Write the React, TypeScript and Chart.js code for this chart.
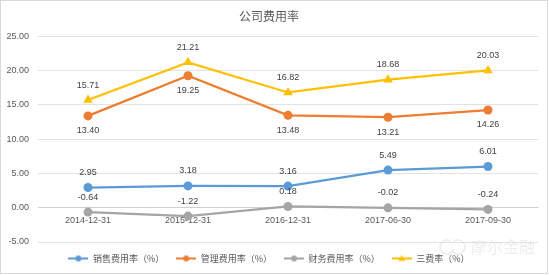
import React, { useEffect, useRef } from 'react';
import { Chart, registerables } from 'chart.js';

Chart.register(...registerables);

const categories = ['2014-12-31', '2015-12-31', '2016-12-31', '2017-06-30', '2017-09-30'];
const salesRate = [2.95, 3.18, 3.16, 5.49, 6.01];
const adminRate = [13.4, 19.25, 13.48, 13.21, 14.26];
const financeRate = [-0.64, -1.22, 0.18, -0.02, -0.24];
const totalRate = [15.71, 21.21, 16.82, 18.68, 20.03];
const seriesNames = ['销售费用率（%）', '管理费用率（%）', '财务费用率（%）', '三费率（%）'];
const chartTitle = '公司费用率';
const watermark = '摩尔金融';
const yMin = -5;
const yMax = 25;
const yStep = 5;

const COLORS = ['#5B9BD5', '#ED7D31', '#A5A5A5', '#FFC000'];
const LABEL_SIDE = ['above', 'below', 'above', 'above'];
const FONT = "'Liberation Sans', Arial, 'Noto Sans CJK SC', sans-serif";
const CJK_FONT = "'Noto Sans CJK SC', 'Liberation Sans', sans-serif";

function makeIcon(color: string, triangle: boolean): HTMLCanvasElement {
  const c = document.createElement('canvas');
  c.width = 20;
  c.height = 10;
  const ctx = c.getContext('2d')!;
  ctx.strokeStyle = color;
  ctx.lineWidth = 2;
  ctx.beginPath();
  ctx.moveTo(0, 5);
  ctx.lineTo(20, 5);
  ctx.stroke();
  ctx.fillStyle = color;
  ctx.beginPath();
  if (triangle) {
    ctx.moveTo(10, 1.5);
    ctx.lineTo(13.5, 7.5);
    ctx.lineTo(6.5, 7.5);
    ctx.closePath();
  } else {
    ctx.arc(10, 5, 3, 0, Math.PI * 2);
  }
  ctx.fill();
  return c;
}

const dataLabelPlugin = {
  id: 'dataLabels',
  afterDatasetsDraw(chart: any) {
    const ctx = chart.ctx;
    ctx.save();
    ctx.font = `9px ${FONT}`;
    ctx.fillStyle = '#404040';
    ctx.textAlign = 'center';
    ctx.textBaseline = 'middle';
    chart.data.datasets.forEach((ds: any, i: number) => {
      const meta = chart.getDatasetMeta(i);
      meta.data.forEach((pt: any, j: number) => {
        const v = ds.data[j] as number;
        const dy = LABEL_SIDE[i] === 'below' ? 15 : -15;
        ctx.fillText(v.toFixed(2), pt.x, pt.y + dy);
      });
    });
    ctx.restore();
  },
};

const framePlugin = {
  id: 'frame',
  beforeDraw(chart: any) {
    const ctx = chart.ctx;
    ctx.save();
    ctx.fillStyle = '#ffffff';
    ctx.fillRect(0, 0, chart.width, chart.height);
    ctx.restore();
  },
  afterDraw(chart: any) {
    const ctx = chart.ctx;
    ctx.save();
    ctx.strokeStyle = '#d9d9d9';
    ctx.lineWidth = 1;
    ctx.strokeRect(0.5, 0.5, chart.width - 2, chart.height - 2);
    ctx.font = `16px ${CJK_FONT}`;
    ctx.fillStyle = 'rgba(200,200,200,0.3)';
    ctx.textAlign = 'right';
    ctx.textBaseline = 'middle';
    ctx.fillText(watermark, 535, 247);
    ctx.strokeStyle = 'rgba(200,200,200,0.35)';
    ctx.lineWidth = 1.5;
    ctx.beginPath();
    ctx.arc(447, 247, 7, 0.3, Math.PI * 1.7);
    ctx.stroke();
    ctx.beginPath();
    ctx.arc(458, 247, 7, Math.PI * 1.2, Math.PI * 2.8);
    ctx.stroke();
    ctx.restore();
  },
};

export default function App() {
  const ref = useRef<HTMLCanvasElement>(null);
  useEffect(() => {
    document.body.style.margin = '0';
    const icons = COLORS.map((c, i) => makeIcon(c, i === 3));
    const seriesData = [salesRate, adminRate, financeRate, totalRate];
    const chart = new Chart(ref.current!, {
      type: 'line',
      data: {
        labels: categories,
        datasets: seriesData.map((d, i) => ({
          label: seriesNames[i],
          data: d,
          borderColor: COLORS[i],
          backgroundColor: COLORS[i],
          borderWidth: 2.25,
          pointStyle: i === 3 ? 'triangle' : 'circle',
          pointRadius: i === 3 ? 5.5 : 4.5,
          pointBorderWidth: 0,
          pointBackgroundColor: COLORS[i],
          tension: 0,
          fill: false,
        })),
      },
      options: {
        responsive: false,
        animation: false,
        devicePixelRatio: 1,
        layout: { padding: { left: 0, right: 11, top: 0, bottom: 2 } },
        plugins: {
          title: {
            display: true,
            text: chartTitle,
            color: '#595959',
            font: { size: 12, family: CJK_FONT, weight: 'normal' },
            padding: { top: 9, bottom: 13 },
          },
          legend: {
            position: 'bottom',
            labels: {
              usePointStyle: true,
              pointStyleWidth: 20,
              boxHeight: 9,
              padding: 12,
              color: '#595959',
              font: { size: 9, family: CJK_FONT },
              generateLabels: (ch: any) =>
                ch.data.datasets.map((ds: any, i: number) => ({
                  text: ds.label,
                  pointStyle: icons[i],
                  fillStyle: COLORS[i],
                  strokeStyle: COLORS[i],
                  lineWidth: 0,
                  hidden: false,
                  datasetIndex: i,
                  fontColor: '#595959',
                })),
            },
          },
          tooltip: { enabled: false },
        },
        scales: {
          x: {
            position: { y: 0 } as any,
            offset: true,
            grid: { display: true, color: 'transparent', drawTicks: false },
            border: { display: true, color: '#d0d0d0', width: 1 },
            ticks: {
              color: '#595959',
              font: { size: 9, family: FONT },
              padding: 7,
              maxRotation: 0,
              autoSkip: false,
            },
          },
          y: {
            min: yMin,
            max: yMax,
            grid: { color: '#e3e3e3', drawTicks: false, lineWidth: 1 },
            border: { display: false },
            ticks: {
              stepSize: yStep,
              color: '#595959',
              font: { size: 9, family: FONT },
              padding: 9,
              callback: (v: any) => Number(v).toFixed(2),
            },
            afterFit: (s: any) => {
              s.width = 38;
            },
          },
        },
      },
      plugins: [dataLabelPlugin, framePlugin],
    });
    return () => chart.destroy();
  }, []);
  return <canvas ref={ref} width={549} height={275} style={{ display: 'block' }} />;
}
